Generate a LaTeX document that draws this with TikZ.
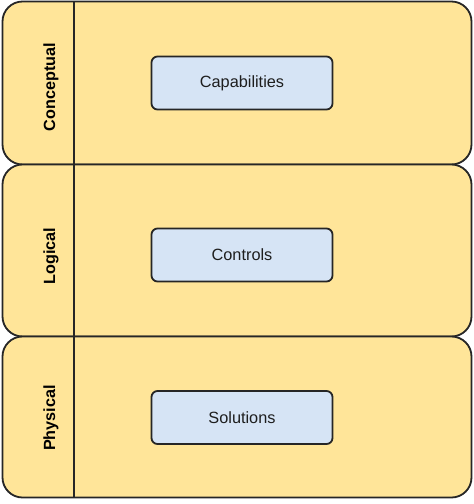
\documentclass[tikz,border=0pt]{standalone}
\usepackage{fontspec}
\setmainfont{Liberation Sans}
\definecolor{lanefill}{HTML}{FFE599}
\definecolor{boxfill}{HTML}{D6E4F5}
\definecolor{edge}{HTML}{262626}
\definecolor{txt}{HTML}{1E1E1E}
\begin{document}
\begin{tikzpicture}[x=1pt,y=-1pt,
  lane/.style={draw=edge,fill=lanefill,line width=1.8pt,rounded corners=20pt},
  divider/.style={draw=edge,line width=1.5pt},
  item/.style={draw=edge,fill=boxfill,line width=1.8pt,rounded corners=6pt,
    minimum width=181pt,minimum height=53pt,text=txt,font=\fontsize{16.3}{19}\selectfont,inner sep=0pt},
  lanelabel/.style={rotate=90,text=black,font=\bfseries\fontsize{16.2}{19}\selectfont,inner sep=0pt}]
\useasboundingbox (0,0) rectangle (474,504);
\draw[lane] (2.5,1.5) rectangle (471.5,164.5);
\draw[lane] (2.5,164.5) rectangle (471.5,336.5);
\draw[lane] (2.5,336.5) rectangle (471.5,497.5);
\draw[divider] (74,1.5) -- (74,497.5);
\node[lanelabel] (l1) at (51,87) {Conceptual};
\node[lanelabel] (l2) at (51,256) {Logical};
\node[lanelabel] (l3) at (51,418) {Physical};
\node[item] (b1) at (242,83) {Capabilities};
\node[item] (b2) at (242,255) {Controls};
\node[item] (b3) at (242,417.5) {Solutions};
\end{tikzpicture}
\end{document}
